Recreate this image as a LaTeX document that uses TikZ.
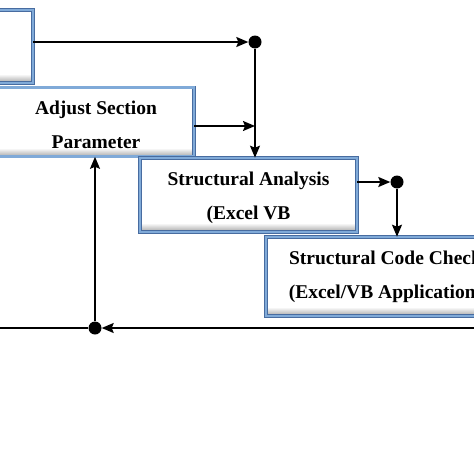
\documentclass[tikz,border=0pt]{standalone}
\usepackage{fontspec}
\setmainfont{Liberation Serif}
\usetikzlibrary{arrows.meta}
\definecolor{boxline}{RGB}{72,108,160}
\definecolor{boxband}{RGB}{128,170,216}
\newcommand{\dn}[1]{\raisebox{-3pt}[\height][\depth]{#1}}
\tikzstyle{arrow} = [line width=1.6pt,->,>={Stealth[length=12pt,width=10pt,inset=2pt]}]
\tikzstyle{block} = [rectangle, draw=boxline, line width=0.6pt, double=boxband, double distance=2.2pt,
  fill=white, align=center, inner sep=0pt,
  font=\fontsize{19.5}{34}\selectfont\bfseries,
  path picture={\foreach \i in {0,...,8}
    \fill[black!\the\numexpr 32-4*\i\relax]
      ([yshift=\i pt]path picture bounding box.south west) rectangle
      ([yshift=\i pt+1.05pt]path picture bounding box.south east);}]
\tikzstyle{dot} = [circle, fill=black, inner sep=0pt, minimum size=13pt]

\begin{document}
\begin{tikzpicture}[x=1pt,y=-1pt]
\useasboundingbox (0,0) rectangle (474,474);
\clip (0,0) rectangle (474,474);

% boxes
\node[block, minimum width=63pt, minimum height=73pt] (start) at (1.5,46.5) {};
\node[block, minimum width=196pt, minimum height=69pt] (adjust) at (96,122) {\dn{Adjust Section}\\\dn{Parameter}};
\node[block, minimum width=217pt, minimum height=74pt] (analysis) at (248.5,195) {\dn{Structural Analysis}\\\dn{(Excel VB}};
\node[block, minimum width=239pt, minimum height=79pt] (codecheck) at (385.5,276.5) {Structural Code Check\\(Excel/VB Application)};

% junctions
\node[dot] (jA) at (255,42) {};
\node[dot] (jB) at (397,182) {};
\node[dot] (jC) at (95,328) {};
\coordinate (jAmid) at (255,126);
\coordinate (rEnd) at (480,328);
\coordinate (lEnd) at (-6,328);

% connectors
\draw[arrow] (start.east |- jA) -- (jA);
\draw[arrow] (jA) -- (jA |- analysis.north);
\draw[arrow] (adjust.east |- jAmid) -- (jAmid);
\draw[arrow] (analysis.east |- jB) -- (jB);
\draw[arrow] (jB) -- (jB |- codecheck.north);
\draw[arrow] (rEnd) -- (jC);
\draw[line width=1.6pt] (jC) -- (lEnd);
\draw[arrow] (jC) -- (jC |- adjust.south);
\end{tikzpicture}
\end{document}
